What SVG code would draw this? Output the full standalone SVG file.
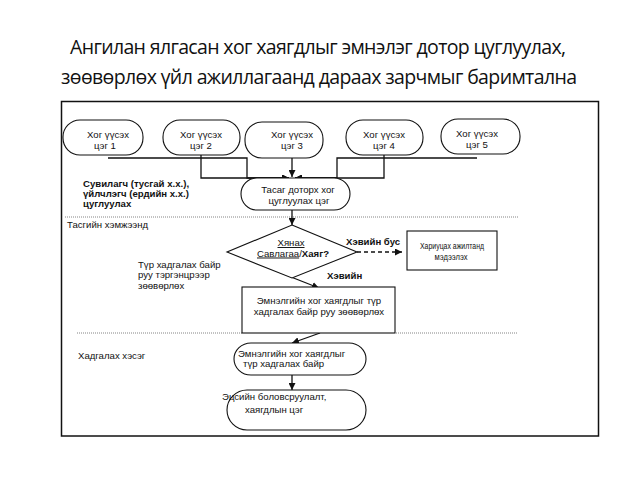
<svg xmlns="http://www.w3.org/2000/svg" width="638" height="479" viewBox="0 0 638 479">
<defs>
<style>
.title{font-family:"Open Sans","Noto Sans","Liberation Sans",sans-serif;font-size:19.5px;fill:#111;text-anchor:middle}
.t{font-family:"Liberation Sans",Arial,sans-serif;font-size:9.6px;fill:#111}
.s{font-size:9px}
.c{text-anchor:middle}
.b{font-weight:bold}
.node{fill:#fff;stroke:#111;stroke-width:1.1}
.line{fill:none;stroke:#111;stroke-width:1.3}
.dot{fill:none;stroke:#666;stroke-width:0.8;stroke-dasharray:1,1}
</style>
<marker id="ah" viewBox="0 0 8 8" refX="8" refY="4" markerWidth="7" markerHeight="7" markerUnits="userSpaceOnUse" orient="auto">
<path d="M0,0 L8,4 L0,8 Z" fill="#111"/>
</marker>
</defs>
<rect width="638" height="479" fill="#fff"/>
<text class="title" x="318" y="54" textLength="496">Ангилан ялгасан хог хаягдлыг эмнэлэг дотор цуглуулах,</text>
<text class="title" x="319" y="84" textLength="516">зөөвөрлөх үйл ажиллагаанд дараах зарчмыг баримтална</text>
<rect x="61.5" y="101.5" width="537" height="334.5" fill="none" stroke="#111" stroke-width="1.5"/>
<g id="separators">
<line class="dot" x1="65" y1="217" x2="518" y2="217"/>
<line class="dot" x1="77" y1="333" x2="242" y2="333"/>
<line class="dot" x1="396" y1="333" x2="518" y2="333"/>
</g>
<g id="connectors">
<path class="line" d="M108,158 H247 V178 H289" marker-end="url(#ah)"/>
<path class="line" d="M201,155 V178 H289" marker-end="url(#ah)"/>
<path class="line" d="M292,158 V177" marker-end="url(#ah)"/>
<path class="line" d="M384,155 V178 H295" marker-end="url(#ah)"/>
<path class="line" d="M477,158 H337 V178 H295" marker-end="url(#ah)"/>
<path class="line" d="M292,210 V225" marker-end="url(#ah)"/>
<path class="line" d="M357,252 H402" stroke-dasharray="4,3" marker-end="url(#ah)"/>
<path class="line" d="M291,277 L319,288" marker-end="url(#ah)"/>
<path class="line" d="M320,333 L292,343" marker-end="url(#ah)"/>
<path class="line" d="M292,375 V390" marker-end="url(#ah)"/>
</g>
<g id="n1">
<rect class="node" x="63" y="120" width="80" height="35" rx="17" ry="17"/>
<text class="t c" x="108" y="137.5">Хог үүсэх</text>
<text class="t c" x="105" y="148.5">цэг 1</text>
</g>
<g id="n2">
<rect class="node" x="163" y="120" width="77" height="35" rx="17" ry="17"/>
<text class="t c" x="201" y="137.5">Хог үүсэх</text>
<text class="t c" x="201" y="148.5">цэг 2</text>
</g>
<g id="n3">
<rect class="node" x="245" y="122" width="78" height="36" rx="17" ry="17"/>
<text class="t c" x="292" y="137.5">Хог үүсэх</text>
<text class="t c" x="292" y="148.5">цэг 3</text>
</g>
<g id="n4">
<rect class="node" x="346" y="120" width="77" height="35" rx="17" ry="17"/>
<text class="t c" x="384" y="137.5">Хог үүсэх</text>
<text class="t c" x="384" y="148.5">цэг 4</text>
</g>
<g id="n5">
<rect class="node" x="441" y="119" width="79" height="35" rx="17" ry="17"/>
<text class="t c" x="477" y="136.5">Хог үүсэх</text>
<text class="t c" x="477" y="147.5">цэг 5</text>
</g>
<g id="collector">
<rect class="node" x="241" y="178" width="109" height="32" rx="16" ry="16"/>
<text class="t c" x="298" y="192.5">Тасаг доторх хог</text>
<text class="t c" x="299" y="204">цуглуулах цэг</text>
</g>
<g id="label-nurse">
<text class="t b" x="83" y="186.5">Сувилагч (тусгай х.х.),</text>
<text class="t b" x="83" y="196.5">үйлчлэгч (ердийн х.х.)</text>
<text class="t b" x="83" y="206.5">цуглуулах</text>
</g>
<text class="t" x="67" y="228">Тасгийн хэмжээнд</text>
<g id="decision">
<polygon class="node" points="292,225 357,252 292,278 227,252"/>
<text class="t c" x="291" y="246" text-decoration="underline">Хянах</text>
<text class="t c" x="293" y="256.5"><tspan text-decoration="underline">Савлагаа</tspan>/<tspan class="b">Хаяг?</tspan></text>
</g>
<text class="t b" x="346" y="244.5">Хэвийн бус</text>
<text class="t b" x="327" y="278.5">Хэвийн</text>
<g id="notify">
<rect class="node" x="407" y="231" width="90" height="39"/>
<text class="t s c" x="452" y="249" textLength="64" lengthAdjust="spacingAndGlyphs">Хариуцах ажилтанд</text>
<text class="t s c" x="451" y="259.5" textLength="33" lengthAdjust="spacingAndGlyphs">мэдээлэх</text>
</g>
<g id="label-cart">
<text class="t" x="138" y="267.5">Түр хадгалах байр</text>
<text class="t" x="138" y="278">руу тэргэнцрээр</text>
<text class="t" x="138" y="288.5">зөөвөрлөх</text>
</g>
<g id="transfer">
<rect class="node" x="242" y="287" width="153" height="46"/>
<text class="t c" x="319" y="303.5">Эмнэлгийн хог хаягдлыг түр</text>
<text class="t c" x="319" y="314.5">хадгалах байр руу зөөвөрлөх</text>
</g>
<text class="t" x="78" y="358.5">Хадгалах хэсэг</text>
<g id="storage">
<rect class="node" x="234" y="343" width="132" height="32" rx="17" ry="16"/>
<text class="t" x="238" y="356.5">Эмнэлгийн хог хаягдлыг</text>
<text class="t" x="243" y="367">түр хадгалах байр</text>
</g>
<g id="final">
<rect class="node" x="227" y="390" width="139" height="40" rx="20" ry="20"/>
<text class="t" x="222" y="399.5">Эцсийн боловсруулалт,</text>
<text class="t" x="245" y="413">хаягдлын цэг</text>
</g>
</svg>
